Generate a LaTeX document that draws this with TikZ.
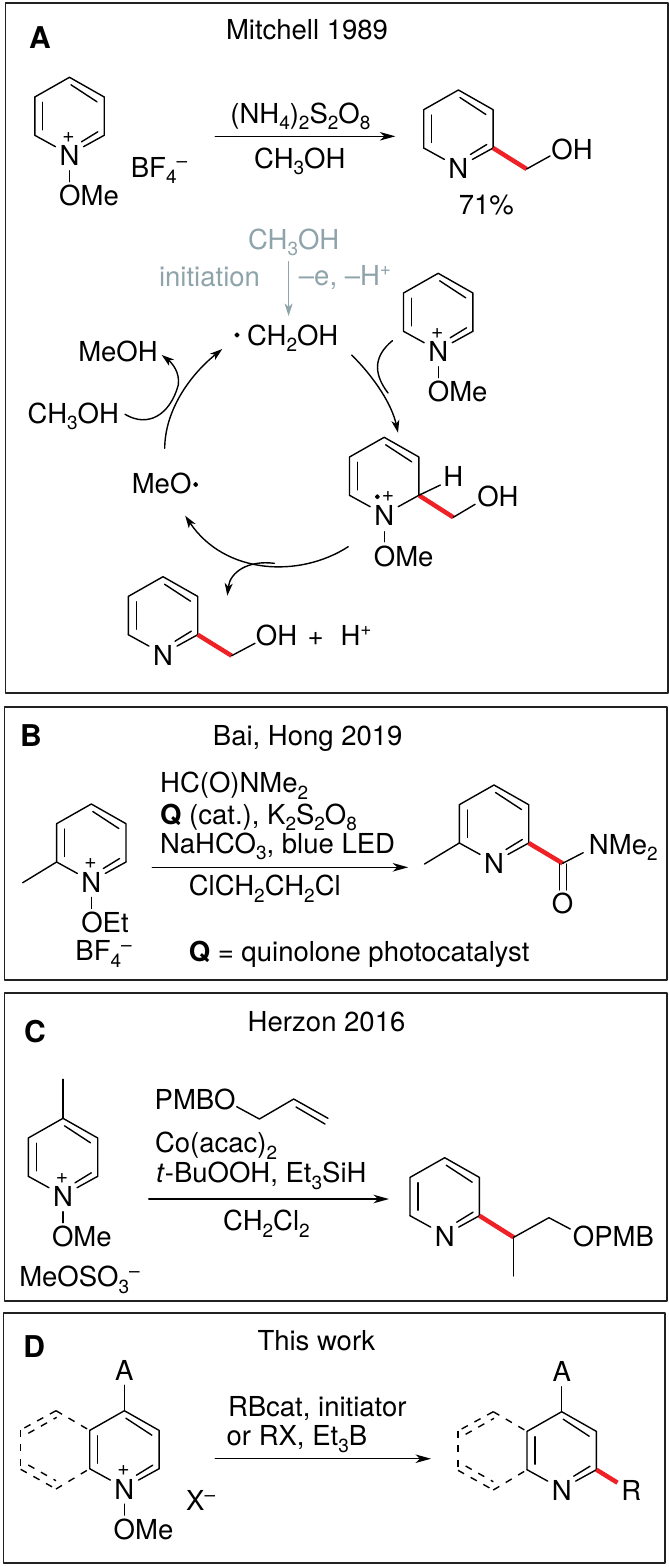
\documentclass[tikz,border=0pt]{standalone}
\usepackage{fontspec}
\setmainfont{TeX Gyre Heros}
\usetikzlibrary{arrows.meta}
\definecolor{redbond}{rgb}{0.93,0.13,0.15}
\definecolor{grayblue}{rgb}{0.56,0.64,0.67}
\definecolor{framecol}{rgb}{0.13,0.13,0.13}
\newcommand{\dn}[1]{\raisebox{-6.5pt}{\fontsize{19}{19}\selectfont #1}}
\newcommand{\up}[1]{\raisebox{9.5pt}{\fontsize{19}{19}\selectfont #1}}
\newcommand{\ringbase}[3]{
\begin{scope}[shift={(#2,#3)}]
\coordinate (#1t) at (0,0);
\coordinate (#1ur) at (34.7,19.7);
\coordinate (#1lr) at (34.7,58);
\coordinate (#1ll) at (-34.7,58);
\coordinate (#1ul) at (-34.7,19.7);
\node[chem] (#1n) at (0,88.5) {N};
\draw (#1lr)-- (14,69.4);
\draw (#1ll)-- (-14,69.4);
\draw (#1ll)-- (#1ul)-- (#1t)-- (#1ur)-- (#1lr);
\draw (1.5,7.5)-- (27.5,24.5);
\draw (-26.8,25)-- (-26.8,52.5);
\end{scope}
}
\newcommand{\pyrring}[3]{
\ringbase{#1}{#2}{#3}
\draw (#2+12,#3+64.5)-- (#2+28.3,#3+54.5);
}
\newcommand{\pyrplus}[5]{
\pyrring{#1}{#2}{#3}
\node[plus] at (#2-0.9,#3+60) {+};
\draw (#2,#3+93.4)-- (#2,#3+104.4);
\node[chem] (#1o) at (#2+#5,#3+128.4) {#4};
}
\newcommand{\dashring}[3]{
\begin{scope}[shift={(#2,#3)}]
\draw[dashbond] (-68.4,0)-- (#1ul);
\draw[dashbond] (-68.4,0)-- (-103.7,19.2);
\draw[dashbond] (-103.7,19.2)-- (-103.7,58.6);
\draw[dashbond] (-103.7,58.6)-- (-68.4,78.3);
\draw[dashbond] (-68.4,78.3)-- (#1ll);
\draw[dashbond] (-96.1,22.6)-- (-67.7,6.6);
\draw[dashbond] (-96.1,54.3)-- (-68.4,70);
\end{scope}
}
\begin{document}
\begin{tikzpicture}[line cap=round,line join=round,x=1pt,y=-1pt,line width=1.4pt,
>={Stealth[length=15.5pt,width=8.5pt,inset=4.5pt]},
chem/.style={anchor=base,inner sep=0pt,font=\fontsize{27.5}{27.5}\selectfont},
lab/.style={chem,anchor=base west},
tag/.style={chem,font=\fontsize{30}{30}\selectfont\bfseries},
plus/.style={inner sep=0pt,font=\fontsize{21}{21}\selectfont},
redb/.style={color=redbond,line width=4.5pt,line cap=butt},
dashbond/.style={dash pattern=on 7pt off 7.5pt,line cap=butt},
panel/.style={color=framecol,line width=1.6pt},
curved/.style={-{Stealth[length=12.5pt,width=8pt,inset=3.5pt]}},
init/.style={color=grayblue}]
\useasboundingbox (0,0) rectangle (669,1567);
\draw[panel] (5.5,3) rectangle (668,692.7);
\draw[panel] (4.5,707) rectangle (667,980);
\draw[panel] (4.5,992.7) rectangle (667,1301);
\draw[panel] (3.5,1312.7) rectangle (665,1563);

\node[tag] (tagA) at (40,48.3) {A};
\node[chem] (mitchell) at (307,39.3) {Mitchell 1989};
\pyrplus{s1}{69.5}{77.3}{OMe}{19.5}
\node[chem] (bf1) at (159,177) {BF\dn{4}\up{--}};
\node[chem] (nh4) at (300.4,123.3) {(NH\dn{4})\dn{2}S\dn{2}O\dn{8}};
\node[chem] (meoh1) at (299.8,168.3) {CH\dn{3}OH};
\coordinate (aL) at (215.3,136.3);
\coordinate (aR) at (395.4,136.3);
\draw[->] (aL)-- (aR);
\pyrring{p1}{458.4}{90}
\coordinate (p1c) at (526.6,169);
\node[chem] (p1oh) at (572,159.3) {OH};
\draw[redb] (p1lr)-- (p1c);
\draw (p1c)-- (550,156);
\node[chem] (yield) at (486.3,214.3) {71\%};

\node[chem,init] (meoh2) at (293.7,249) {CH\dn{3}OH};
\node[chem,init] (initiation) at (209.5,286) {initiation};
\node[chem,init] (loss) at (345,285) {--e, --H\up{+}};
\coordinate (iT) at (288.6,261.7);
\coordinate (iB) at (288.6,316);
\draw[curved,init] (iT)-- (iB);
\node[chem] (chtwo) at (292.7,345) {CH\dn{2}OH};
\draw[fill] (237,335) circle (1.8pt);
\pyrplus{s2}{438.2}{273.3}{OMe}{19.5}
\node[chem] (meoh3) at (118,361.7) {MeOH};
\node[chem] (meoh4) at (73.3,423.3) {CH\dn{3}OH};
\node[chem] (meo) at (161.6,493.3) {MeO};
\draw[fill] (195.7,484.5) circle (1.8pt);

\ringbase{r}{384.2}{437.3}
\node[plus] at (388,496.7) {+};
\draw[fill] (377.4,496.7) circle (1.8pt);
\draw (384.2,531.7)-- (384.2,541.7);
\node[chem] (ro) at (403.7,566) {OMe};
\coordinate (rc) at (453.3,517.3);
\draw[redb] (rlr)-- (rc);
\draw (rc)-- (475.1,504.3);
\draw (rlr)-- (440.4,485);
\node[chem] (rh) at (453.3,486) {H};
\node[chem] (roh) at (497.9,506.7) {OH};

\pyrring{p2}{163}{576.7}
\coordinate (p2c) at (231.6,655.7);
\draw[redb] (p2lr)-- (p2c);
\draw (p2c)-- (255,643.3);
\node[chem] (p2oh) at (276.6,645) {OH};
\node[chem] (p2plus) at (315.6,645) {+};
\node[chem] (proton) at (356,645) {H\up{+}};

\coordinate (c1s) at (351.6,355);
\coordinate (c1e) at (398,432.7);
\draw[curved] (c1s) .. controls (375,378) and (392,405) .. (c1e);
\coordinate (c2s) at (392.4,340.7);
\coordinate (c2e) at (388,393);
\draw (c2s) .. controls (375,355) and (372,372) .. (c2e);
\coordinate (c3s) at (348.2,546.7);
\coordinate (c3e) at (185.2,515.7);
\draw[curved] (c3s) .. controls (300,578) and (225,575) .. (c3e);
\coordinate (c4s) at (274.4,563.3);
\coordinate (c4e) at (227.3,595.7);
\draw[curved] (c4s) .. controls (248,560) and (230,572) .. (c4e);
\coordinate (c5s) at (164.7,448.3);
\coordinate (c5e) at (222.3,349);
\draw[curved] (c5s) .. controls (165,410) and (190,375) .. (c5e);
\coordinate (c6s) at (125,414.3);
\coordinate (c6m) at (178.3,385);
\coordinate (c6e) at (161.7,355);
\draw[curved] (c6s) .. controls (148,428) and (170,415) .. (c6m) .. controls (180,372) and (172,363) .. (c6e);

\node[tag] (tagB) at (31,746.7) {B};
\node[chem] (bai) at (307.7,745) {Bai, Hong 2019};
\pyrplus{s3}{91.3}{804}{OEt}{13.7}
\draw (s3ll)-- (22.7,882.7);
\node[chem] (bf2) at (103.6,960.7) {BF\dn{4}\up{--}};
\node[lab] (hc) at (159.5,792.7) {HC(O)NMe\dn{2}};
\node[lab] (qcat) at (159.5,824) {\textbf{Q} (cat.), K\dn{2}S\dn{2}O\dn{8}};
\node[lab] (led) at (159.5,853.3) {NaHCO\dn{3}, blue LED};
\coordinate (bL) at (152.2,867.3);
\coordinate (bR) at (408.2,867.3);
\draw[->] (bL)-- (bR);
\node[chem] (dce) at (264.8,895.7) {ClCH\dn{2}CH\dn{2}Cl};
\node[chem] (qdef) at (359.1,961.7) {\textbf{Q} = quinolone photocatalyst};
\pyrring{p3}{494}{785}
\draw (p3ll)-- (424.5,864);
\coordinate (p3c) at (562.6,863.3);
\draw[redb] (p3lr)-- (p3c);
\draw (p3c)-- (583.2,852.7);
\node[chem] (nme) at (623.3,854) {NMe\dn{2}};
\draw (559.6,864)-- (559.6,890);
\draw (566.6,864)-- (566.6,890);
\node[chem] (p3o) at (562.6,913.3) {O};

\node[tag] (tagC) at (35,1042.3) {C};
\node[chem] (herzon) at (326.5,1031) {Herzon 2016};
\pyrplus{s4}{63}{1118.3}{OMe}{18.9}
\draw (s4t)-- (63,1079.3);
\node[chem] (meoso) at (79.5,1286.7) {MeOSO\dn{3}\up{--}};
\node[chem] (pmbo) at (195.1,1109) {PMBO};
\draw (236.7,1106.7)-- (259.4,1119)-- (293.7,1099)-- (328,1118.3);
\draw (296,1107)-- (325,1124);
\node[lab] (coac) at (154.4,1152.7) {Co(acac)\dn{2}};
\node[lab] (tbu) at (155.5,1182.7) {\textit{t}-BuOOH, Et\dn{3}SiH};
\coordinate (cL) at (148.8,1199);
\coordinate (cR) at (389,1199);
\draw[->] (cL)-- (cR);
\node[chem] (dcm) at (266.5,1230.7) {CH\dn{2}Cl\dn{2}};
\pyrring{p4}{444.7}{1157.7}
\coordinate (p4c) at (513.7,1237.3);
\draw[redb] (p4lr)-- (p4c);
\draw (p4c)-- (513.7,1276);
\draw (p4c)-- (548.9,1217.7)-- (570.3,1229);
\node[chem] (opmb) at (613.4,1246) {OPMB};

\node[tag] (tagD) at (34.3,1357.3) {D};
\node[chem] (thiswork) at (316.3,1350.7) {This work};
\pyrplus{s5}{124.4}{1410.7}{OMe}{19.1}
\dashring{s5}{124.4}{1410.7}
\node[chem] (sa) at (124.4,1380) {A};
\draw (s5t)-- (124.4,1385.3);
\node[chem] (xion) at (200.7,1510.7) {X\up{--}};
\node[lab] (rbcat) at (227.3,1416) {RBcat, initiator};
\node[lab] (rx) at (226,1445.7) {or RX, Et\dn{3}B};
\coordinate (dL) at (215.3,1458.7);
\coordinate (dR) at (431,1458.7);
\draw[->] (dL)-- (dR);
\pyrring{p5}{561.7}{1411.7}
\dashring{p5}{561.7}{1411.7}
\node[chem] (pa) at (561.7,1381) {A};
\draw (p5t)-- (561.7,1386.7);
\coordinate (p5r) at (617.5,1482.7);
\draw[redb] (p5lr)-- (p5r);
\node[chem] (rgroup) at (631.2,1500) {R};
\end{tikzpicture}
\end{document}
